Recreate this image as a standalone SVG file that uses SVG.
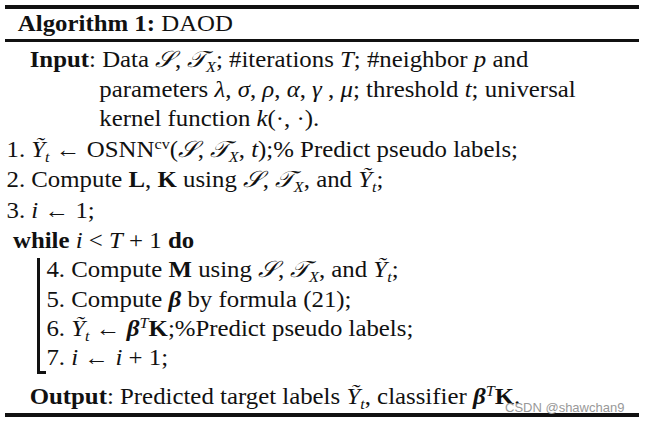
<svg xmlns="http://www.w3.org/2000/svg" width="645" height="425" viewBox="0 0 645 425">
<style>
text{font-family:"Liberation Serif","DejaVu Serif",serif;font-size:23px;fill:#111}
.b{font-weight:bold}.i{font-style:italic}.s{font-size:15px}
.wm{font-family:"Liberation Sans",sans-serif;font-size:13px;fill:#999}
</style>
<rect width="645" height="425" fill="#fff"/>
<rect x="5" y="5" width="634" height="4" fill="#111"/>
<rect x="5" y="39" width="634" height="3" fill="#111"/>
<rect x="5" y="413" width="634" height="4" fill="#111"/>
<rect x="37" y="258" width="3" height="116" fill="#111"/>
<rect x="37" y="371" width="9" height="3" fill="#111"/>
<g transform="scale(1.08,1)">
<text x="16.5" y="31"><tspan class="b">Algorithm 1:</tspan> DAOD</text>
<text x="27.5" y="67"><tspan class="b">Input</tspan>: Data <tspan class="i">𝒮</tspan>, <tspan class="i">𝒯</tspan><tspan class="i s" dy="5">X</tspan><tspan dy="-5">; #iterations </tspan><tspan class="i">T</tspan>; #neighbor <tspan class="i">p</tspan> and</text>
<text x="92" y="97">parameters <tspan class="i">λ</tspan>, <tspan class="i">σ</tspan>, <tspan class="i">ρ</tspan>, <tspan class="i">α</tspan>, <tspan class="i">γ</tspan> , <tspan class="i">μ</tspan>; threshold <tspan class="i">t</tspan>; universal</text>
<text x="92" y="126">kernel function <tspan class="i">k</tspan>(·, ·).</text>
<text x="6" y="157">1. <tspan class="i">Ỹ</tspan><tspan class="i s" dy="5">t</tspan><tspan dy="-5"> ← OSNN</tspan><tspan class="s" dy="-8">cv</tspan><tspan dy="8">(</tspan><tspan class="i">𝒮</tspan>, <tspan class="i">𝒯</tspan><tspan class="i s" dy="5">X</tspan><tspan dy="-5">, </tspan><tspan class="i">t</tspan>);% Predict pseudo labels;</text>
<text x="6" y="187">2. Compute <tspan class="b">L</tspan>, <tspan class="b">K</tspan> using <tspan class="i">𝒮</tspan>, <tspan class="i">𝒯</tspan><tspan class="i s" dy="5">X</tspan><tspan dy="-5">, and </tspan><tspan class="i">Ỹ</tspan><tspan class="i s" dy="5">t</tspan><tspan dy="-5">;</tspan></text>
<text x="6" y="218">3. <tspan class="i">i</tspan> ← 1;</text>
<text x="12" y="248"><tspan class="b">while</tspan> <tspan class="i">i</tspan> &lt; <tspan class="i">T</tspan> + 1 <tspan class="b">do</tspan></text>
<text x="43" y="277">4. Compute <tspan class="b">M</tspan> using <tspan class="i">𝒮</tspan>, <tspan class="i">𝒯</tspan><tspan class="i s" dy="5">X</tspan><tspan dy="-5">, and </tspan><tspan class="i">Ỹ</tspan><tspan class="i s" dy="5">t</tspan><tspan dy="-5">;</tspan></text>
<text x="43" y="307">5. Compute <tspan class="b i">β</tspan> by formula (21);</text>
<text x="43" y="336">6. <tspan class="i">Ỹ</tspan><tspan class="i s" dy="5">t</tspan><tspan dy="-5"> ← </tspan><tspan class="b i">β</tspan><tspan class="i s" dy="-8">T</tspan><tspan class="b" dy="8">K</tspan>;%Predict pseudo labels;</text>
<text x="43" y="365">7. <tspan class="i">i</tspan> ← <tspan class="i">i</tspan> + 1;</text>
<text x="27.5" y="404"><tspan class="b">Output</tspan>: Predicted target labels <tspan class="i">Ỹ</tspan><tspan class="i s" dy="5">t</tspan><tspan dy="-5">, classifier </tspan><tspan class="b i">β</tspan><tspan class="i s" dy="-8">T</tspan><tspan class="b" dy="8">K</tspan>.</text>
</g>
<text class="wm" x="505" y="412">CSDN @shawchan9</text>
</svg>
